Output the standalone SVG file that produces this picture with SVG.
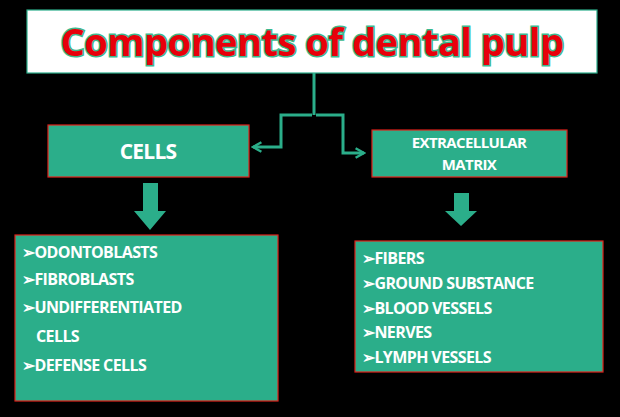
<svg xmlns="http://www.w3.org/2000/svg" width="620" height="417" viewBox="0 0 620 417">
<style>
.box{fill:#2bae8a;stroke:#e0201a;stroke-width:1.2}
.t{font-family:"Open Sans","Liberation Sans",sans-serif;font-weight:bold;fill:#fff}
.li{font-family:"Open Sans","Liberation Sans",sans-serif;font-weight:bold;fill:#fff;font-size:16px;letter-spacing:-0.6px}
.con{fill:none;stroke:#2bae8a;stroke-width:3}
</style>
<defs>
<marker id="ah" viewBox="0 0 10 10" refX="8" refY="5" markerWidth="4" markerHeight="4" orient="auto"><path d="M1,1 L8,5 L1,9" fill="none" stroke="#2bae8a" stroke-width="2"/></marker>
</defs>
<rect width="620" height="417" fill="#000"/>
<g id="title">
<rect x="27" y="10" width="570" height="63" fill="#fff" stroke="#2bae8a" stroke-width="1.2"/>
<text x="312" y="56" text-anchor="middle" font-family="Open Sans,Liberation Sans,sans-serif" font-weight="bold" font-size="38" fill="#e8000a" stroke="#3cb98e" stroke-width="3" paint-order="stroke" letter-spacing="-0.5">Components of dental pulp</text>
</g>
<g id="connectors">
<path class="con" d="M314,73 V115"/>
<path class="con" d="M312,115 H281 V147 H253" marker-end="url(#ah)"/>
<path class="con" d="M316,115 H343 V153 H364" marker-end="url(#ah)"/>
<path d="M143,183 H158 V211 H166 L150,230 L134,211 H143 Z" fill="#2bae8a"/>
<path d="M454,193 H469 V211 H477 L461,226 L445,211 H454 Z" fill="#2bae8a"/>
</g>
<g id="cells">
<rect class="box" x="48" y="125" width="201" height="52"/>
<text class="t" x="148" y="159" text-anchor="middle" font-size="21" letter-spacing="-0.8">CELLS</text>
</g>
<g id="ecm">
<rect class="box" x="372" y="130" width="195" height="47"/>
<text class="t" x="469" y="148" text-anchor="middle" font-size="15" letter-spacing="-0.6">EXTRACELLULAR</text>
<text class="t" x="469" y="170" text-anchor="middle" font-size="15" letter-spacing="-0.6">MATRIX</text>
</g>
<g id="cell-list">
<rect class="box" x="15" y="235" width="263" height="166"/>
<text class="li" x="22" y="258">➢ODONTOBLASTS</text>
<text class="li" x="22" y="285">➢FIBROBLASTS</text>
<text class="li" x="22" y="313">➢UNDIFFERENTIATED</text>
<text class="li" x="36" y="342">CELLS</text>
<text class="li" x="22" y="371">➢DEFENSE CELLS</text>
</g>
<g id="ecm-list">
<rect class="box" x="355" y="241" width="248" height="131"/>
<text class="li" x="362" y="264">➢FIBERS</text>
<text class="li" x="362" y="289">➢GROUND SUBSTANCE</text>
<text class="li" x="362" y="314">➢BLOOD VESSELS</text>
<text class="li" x="362" y="338">➢NERVES</text>
<text class="li" x="362" y="363">➢LYMPH VESSELS</text>
</g>
</svg>
